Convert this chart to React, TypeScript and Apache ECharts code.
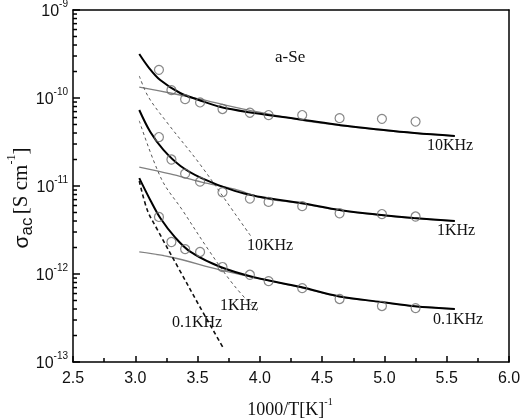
import React, { useEffect, useRef } from "react";
import * as echarts from "echarts";

// measurement temperatures (1000/T)
const tempX = [3.19, 3.29, 3.4, 3.52, 3.7, 3.92, 4.07, 4.34, 4.64, 4.98, 5.25];
// measured sigma_ac (open circles)
const meas10k = [2.09e-10, 1.23e-10, 9.7e-11, 8.9e-11, 7.5e-11, 6.8e-11, 6.4e-11, 6.4e-11, 5.9e-11, 5.8e-11, 5.4e-11];
const meas1k = [3.6e-11, 2.0e-11, 1.38e-11, 1.12e-11, 8.5e-12, 7.2e-12, 6.6e-12, 5.9e-12, 4.9e-12, 4.8e-12, 4.5e-12];
const meas01k = [4.45e-12, 2.31e-12, 1.92e-12, 1.78e-12, 1.2e-12, 9.8e-13, 8.3e-13, 6.9e-13, 5.2e-13, 4.33e-13, 4.1e-13];

// total fits (black solid)
const fit10k = [[3.032, 3.16e-10], [3.105, 2.25e-10], [3.2, 1.6e-10], [3.36, 1.14e-10], [3.51, 9.5e-11], [3.685, 7.9e-11], [3.91, 6.9e-11], [4.33, 5.7e-11], [4.65, 4.9e-11], [4.976, 4.35e-11], [5.24, 4.0e-11], [5.565, 3.7e-11]];
const fit1k = [[3.032, 7.3e-11], [3.121, 4.1e-11], [3.226, 2.57e-11], [3.363, 1.69e-11], [3.532, 1.23e-11], [3.798, 8.8e-12], [4.008, 7.5e-12], [4.33, 6.4e-12], [4.653, 5.3e-12], [4.976, 4.68e-12], [5.234, 4.33e-12], [5.565, 4.0e-12]];
const fit01k = [[3.032, 1.23e-11], [3.121, 6.9e-12], [3.202, 4.3e-12], [3.323, 2.57e-12], [3.444, 1.78e-12], [3.685, 1.2e-12], [3.952, 9.2e-13], [4.33, 7.1e-13], [4.63, 5.6e-13], [4.976, 4.8e-13], [5.242, 4.3e-13], [5.565, 4.0e-13]];

// frequency-dependent component (gray solid)
const part10k = [[3.032, 1.33e-10], [3.28, 1.14e-10], [3.51, 9.75e-11], [3.685, 8.55e-11], [3.91, 7.3e-11], [4.33, 5.6e-11], [4.65, 4.85e-11], [4.976, 4.33e-11], [5.24, 4.0e-11], [5.565, 3.7e-11]];
const part1k = [[3.032, 1.64e-11], [3.28, 1.37e-11], [3.532, 1.11e-11], [3.798, 9.2e-12], [4.008, 7.4e-12], [4.33, 6.3e-12], [4.653, 5.25e-12], [4.976, 4.65e-12], [5.234, 4.3e-12], [5.565, 4.0e-12]];
const part01k = [[3.032, 1.78e-12], [3.282, 1.56e-12], [3.685, 1.11e-12], [4.089, 8.3e-13], [4.33, 7.0e-13], [4.63, 5.55e-13], [4.976, 4.78e-13], [5.242, 4.3e-13], [5.565, 4.0e-13]];

// thermally activated component (dashed)
const act10k = [[3.032, 1.78e-10], [3.105, 1.03e-10], [3.258, 5.2e-11], [3.524, 1.73e-11], [3.798, 4.9e-12], [3.927, 2.7e-12]];
const act1k = [[3.032, 5.5e-11], [3.21, 1.2e-11], [3.379, 5.3e-12], [3.589, 1.87e-12], [3.79, 7.5e-13], [3.992, 3.6e-13]];
const act01k = [[3.032, 1.14e-11], [3.097, 5.3e-12], [3.177, 3.2e-12], [3.355, 1.11e-12], [3.524, 4.1e-13], [3.702, 1.48e-13]];

const xTicks = { min: 2.5, max: 6.0, step: 0.5 };
const yRange = { min: 1e-13, max: 1e-9 };
const yDecades = [-13, -12, -11, -10];
const minorMantissas = [2, 3, 4, 5, 6, 7, 8, 9];

const SERIF = '"Liberation Serif", "Times New Roman", serif';
const SANS = '"Liberation Sans", Arial, sans-serif';
const AX = "#000000";

export default function App() {
  const ref = useRef<HTMLDivElement>(null);
  useEffect(() => {
    document.body.style.margin = "0";
    const chart = echarts.init(ref.current!, null, { renderer: "svg" });
    const minorData: number[][] = [];
    yDecades.forEach((d) => minorMantissas.forEach((m) => minorData.push([xTicks.min, Number(m + "e" + d)])));

    const solid = (name: string, data: number[][], color: string, width: number, z: number) => ({
      name, type: "line", data, smooth: 0.35, symbol: "none", z,
      lineStyle: { color, width },
    });
    const dashed = (name: string, data: number[][], color: string, width: number, dash: number[]) => ({
      name, type: "line", data, smooth: 0.35, symbol: "none", z: 2,
      lineStyle: { color, width, type: dash },
    });
    const meas = (name: string, vals: number[]) => ({
      name, type: "scatter", data: tempX.map((x, i) => [x, vals[i]]),
      symbol: "circle", symbolSize: 9, z: 5,
      itemStyle: { color: "rgba(255,255,255,0)", borderColor: "#6a6a6a", borderWidth: 1.2 },
    });

    chart.setOption({
      animation: false,
      grid: { left: 73, right: 11, top: 10, bottom: 58, containLabel: false, outerBoundsMode: "none" },
      xAxis: [
        {
          type: "value", min: xTicks.min, max: xTicks.max, interval: xTicks.step,
          axisLine: { show: true, onZero: false, lineStyle: { color: AX, width: 1.5 } },
          axisTick: { show: true, inside: true, length: 6, lineStyle: { color: AX, width: 1.5 } },
          minorTick: { show: true, splitNumber: 2, length: 4, lineStyle: { color: AX, width: 1.5 } },
          splitLine: { show: false },
          axisLabel: { formatter: (v: number) => v.toFixed(1), fontSize: 16, fontFamily: SANS, color: "#111", margin: 7 },
        },
        {
          type: "value", position: "top", min: xTicks.min, max: xTicks.max, interval: xTicks.step,
          axisLine: { show: true, onZero: false, lineStyle: { color: AX, width: 1.5 } },
          axisTick: { show: false }, axisLabel: { show: false }, splitLine: { show: false },
        },
      ],
      yAxis: [
        {
          type: "log", logBase: 10, min: yRange.min, max: yRange.max,
          axisLine: { show: true, onZero: false, lineStyle: { color: AX, width: 1.5 } },
          axisTick: { show: true, inside: true, length: 7, lineStyle: { color: AX, width: 1.5 } },
          splitLine: { show: false },
          axisLabel: {
            margin: 5,
            formatter: (v: number) => `{b|10}{s|${Math.round(Math.log10(v))}}`,
            rich: {
              b: { fontSize: 16, fontFamily: SANS, color: "#111", lineHeight: 18 },
              s: { fontSize: 10, fontFamily: SANS, color: "#111", verticalAlign: "top", lineHeight: 24 },
            },
          },
        },
        {
          type: "log", logBase: 10, position: "right", min: yRange.min, max: yRange.max,
          axisLine: { show: true, onZero: false, lineStyle: { color: AX, width: 1.5 } },
          axisTick: { show: false }, axisLabel: { show: false }, splitLine: { show: false },
        },
      ],
      series: [
        {
          name: "minor", type: "custom", data: minorData, clip: false,
          renderItem: (params: any, api: any) => {
            const p = api.coord([api.value(0), api.value(1)]);
            return {
              type: "line",
              shape: { x1: p[0], y1: p[1], x2: p[0] + 4, y2: p[1] },
              style: { stroke: AX, lineWidth: 1.5 },
            };
          },
        },
        solid("p10k", part10k, "#808080", 1.3, 1),
        solid("p1k", part1k, "#808080", 1.3, 1),
        solid("p01k", part01k, "#808080", 1.3, 1),
        dashed("a10k", act10k, "#555555", 1, [3, 3]),
        dashed("a1k", act1k, "#555555", 1, [3, 3]),
        dashed("a01k", act01k, "#111111", 1.6, [4, 3]),
        solid("f10k", fit10k, "#000000", 2, 3),
        solid("f1k", fit1k, "#000000", 2, 3),
        solid("f01k", fit01k, "#000000", 2, 3),
        meas("m10k", meas10k),
        meas("m1k", meas1k),
        meas("m01k", meas01k),
      ],
      graphic: [
        { type: "text", left: 275, top: 48, style: { text: "a-Se", font: `17px ${SERIF}`, fill: "#111" } },
        { type: "text", left: 427, top: 136, style: { text: "10KHz", font: `16px ${SERIF}`, fill: "#111" } },
        { type: "text", left: 437, top: 221, style: { text: "1KHz", font: `16px ${SERIF}`, fill: "#111" } },
        { type: "text", left: 433, top: 310, style: { text: "0.1KHz", font: `16px ${SERIF}`, fill: "#111" } },
        { type: "text", left: 247, top: 236, style: { text: "10KHz", font: `16px ${SERIF}`, fill: "#111" } },
        { type: "text", left: 220, top: 296, style: { text: "1KHz", font: `16px ${SERIF}`, fill: "#111" } },
        { type: "text", left: 172, top: 313, style: { text: "0.1KHz", font: `16px ${SERIF}`, fill: "#111" } },
        {
          type: "text", x: 20, y: 198, rotation: Math.PI / 2,
          style: {
            text: "{a|σ}{b|ac} {c|[S cm}{d|-1}{c|]}", align: "center", verticalAlign: "middle",
            rich: {
              a: { fontSize: 21, fontFamily: SANS, fill: "#111", lineHeight: 26 },
              b: { fontSize: 17, fontFamily: SANS, fill: "#111", verticalAlign: "bottom", lineHeight: 20 },
              c: { fontSize: 21, fontFamily: SERIF, fill: "#111", lineHeight: 26 },
              d: { fontSize: 12, fontFamily: SERIF, fill: "#111", verticalAlign: "top", lineHeight: 30 },
            },
          },
        },
        {
          type: "text", x: 290, y: 409,
          style: {
            text: "{c|1000/T[K]}{d|-1}", align: "center", verticalAlign: "middle",
            rich: {
              c: { fontSize: 18, fontFamily: SERIF, fill: "#111", lineHeight: 22 },
              d: { fontSize: 10, fontFamily: SERIF, fill: "#111", verticalAlign: "top", lineHeight: 26 },
            },
          },
        },
      ],
    });
    return () => chart.dispose();
  }, []);
  return <div ref={ref} style={{ position: "fixed", left: 0, top: 0, width: 520, height: 420 }} />;
}
